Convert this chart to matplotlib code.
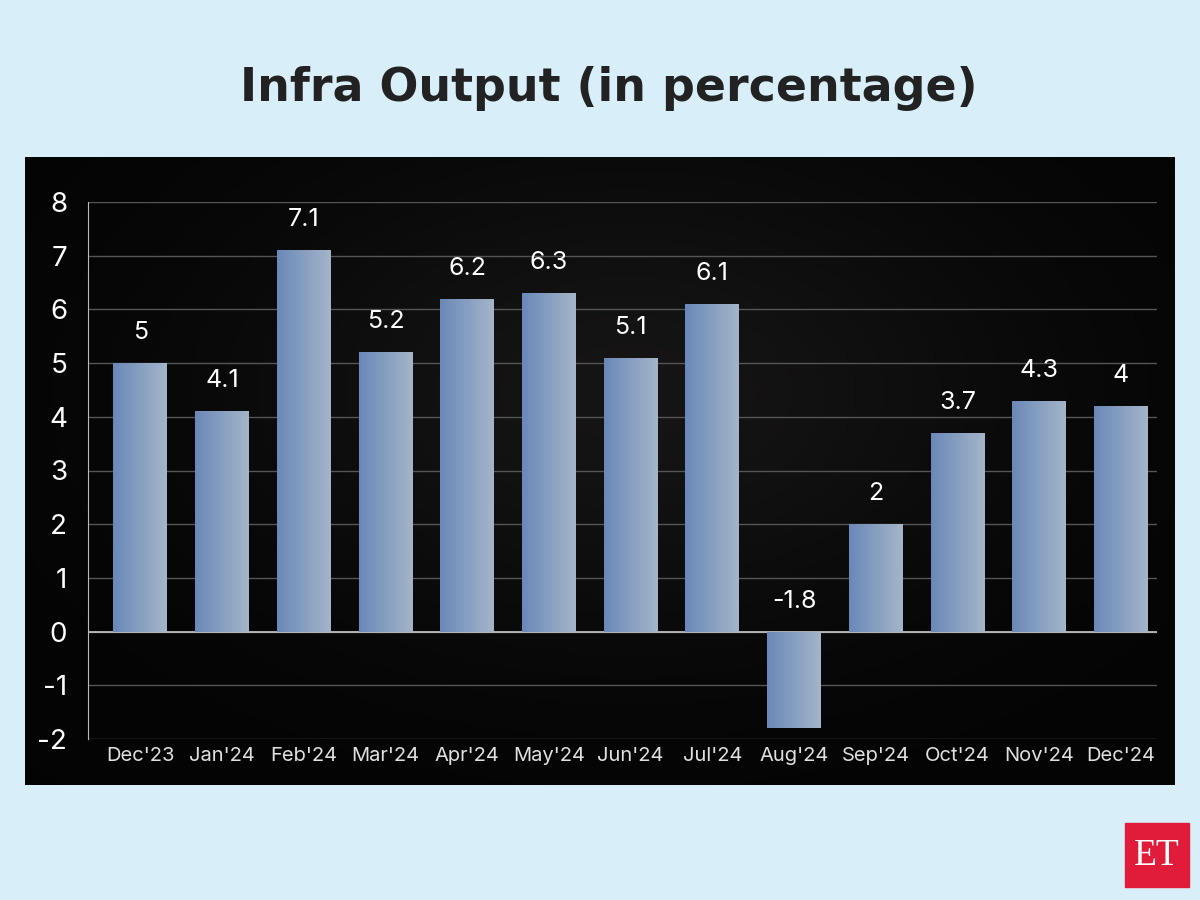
import numpy as np
import matplotlib
matplotlib.use("Agg")
import matplotlib.pyplot as plt
from matplotlib.patches import Rectangle

# Data
months = ["Dec'23", "Jan'24", "Feb'24", "Mar'24", "Apr'24", "May'24", "Jun'24",
          "Jul'24", "Aug'24", "Sep'24", "Oct'24", "Nov'24", "Dec'24"]
values = [5, 4.1, 7.1, 5.2, 6.2, 6.3, 5.1, 6.1, -1.8, 2, 3.7, 4.3, 4.2]
value_labels = ["5", "4.1", "7.1", "5.2", "6.2", "6.3", "5.1", "6.1", "-1.8", "2", "3.7", "4.3", "4"]
yticks = [-2, -1, 0, 1, 2, 3, 4, 5, 6, 7, 8]

plt.rcParams["font.family"] = ["Inter", "DejaVu Sans"]

fig = plt.figure(figsize=(12, 9), dpi=100)
fig.patch.set_facecolor("#d8eef9")

fig.text(0.507, 0.902, "Infra Output (in percentage)", ha="center", va="center",
         fontsize=33, fontweight="bold", color="#222222", family="DejaVu Sans")

# dark panel with a soft glow in the middle
bg = fig.add_axes([25 / 1200, 1 - 785 / 900, 1150 / 1200, 628 / 900])
gx, gy = np.meshgrid(np.linspace(-1, 1, 300), np.linspace(-1, 1, 200))
glow = np.exp(-((gx - 0.05) ** 2 / 0.5 + (gy + 0.25) ** 2 / 0.6))
img = np.zeros((200, 300, 3))
img[..., 0] = 0.015 + 0.07 * glow
img[..., 1] = 0.015 + 0.065 * glow
img[..., 2] = 0.015 + 0.065 * glow
bg.imshow(img, aspect="auto", extent=[0, 1, 0, 1])
bg.set_axis_off()

ax = fig.add_axes([88 / 1200, 1 - 739 / 900, 1069 / 1200, 537 / 900])
ax.set_facecolor("none")
x = np.arange(len(months))
bars = ax.bar(x, values, width=0.66, color="none", zorder=3)

grad = np.linspace(0, 1, 256).reshape(1, -1)
cmap = matplotlib.colors.LinearSegmentedColormap.from_list("b", ["#6a88b8", "#a5b5c9"])
for b in bars:
    x0, y0 = b.get_x(), b.get_y()
    w, h = b.get_width(), b.get_height()
    im = ax.imshow(grad, cmap=cmap, aspect="auto", zorder=3,
                   extent=[x0, x0 + w, y0, y0 + h])
    im.set_clip_path(b)

for xi, v, lab in zip(x, values, value_labels):
    ax.annotate(lab, (xi, max(v, 0)), xytext=(0, 22), textcoords="offset points",
                ha="center", va="center", color="white", fontsize=18)

ax.set_xlim(-0.64, 12.44)
ax.set_ylim(-2, 8)
ax.set_yticks(yticks)
ax.set_yticklabels([str(t) for t in yticks])
ax.set_xticks(x)
ax.set_xticklabels(months)
ax.grid(axis="y", color="#555555", linewidth=1, zorder=1)
ax.axhline(0, color="#c8c8c8", linewidth=1.2, zorder=2)
for s in ["top", "right", "bottom"]:
    ax.spines[s].set_visible(False)
ax.spines["left"].set_color("#bbbbbb")
ax.tick_params(axis="y", length=0, pad=15, labelsize=20, labelcolor="white")
ax.tick_params(axis="x", length=0, pad=6, labelsize=14.5, labelcolor="#e0e0e0")

# ET logo
fig.patches.append(Rectangle((1125 / 1200, 1 - 887 / 900), 64 / 1200, 64 / 900,
                             transform=fig.transFigure, color="#e11b3a", zorder=5))
fig.text(1157 / 1200, 1 - 856 / 900, "ET", ha="center", va="center", color="white",
         fontsize=27, family="Liberation Serif", zorder=6)

fig.savefig("out.png", dpi=100, facecolor=fig.get_facecolor())
